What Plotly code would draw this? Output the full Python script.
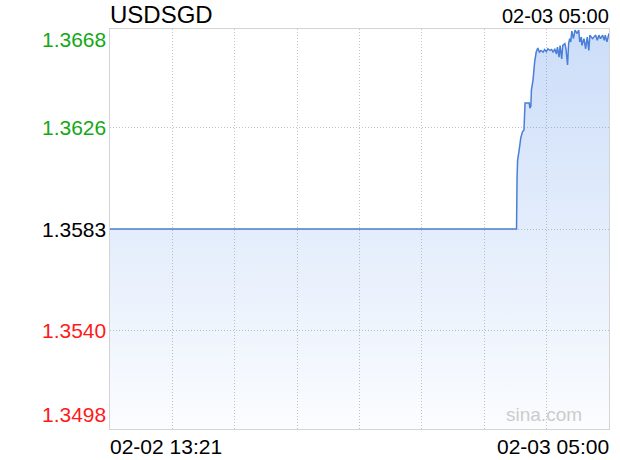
import datetime as dt
import plotly.graph_objects as go

# ---------------- data ----------------
symbol = "USDSGD"
start_time = "2025-02-02 13:21"
end_time = "2025-02-03 05:00"
start_label = "02-02 13:21"
end_label = "02-03 05:00"

minutes = [0, 765, 766, 767, 770, 773, 776, 779, 781, 789, 790, 792, 793, 796,
           799, 802, 805, 808, 811, 815, 818, 821, 824, 828, 831, 834, 837, 840,
           842, 845, 847, 850, 852, 856, 858, 861, 863, 865, 867, 869, 872, 875,
           879, 882, 884, 887, 888, 892, 895, 898, 901, 903, 908, 911, 914, 917,
           920, 923, 927, 930, 932, 935, 939]
prices = [1.3583, 1.3583, 1.36047, 1.36123, 1.36166, 1.36217, 1.36242, 1.36251,
          1.36366, 1.36366, 1.36344, 1.36353, 1.36421, 1.36463, 1.36538, 1.36582,
          1.36599, 1.36582, 1.36589, 1.36582, 1.36593, 1.36584, 1.36596, 1.36589,
          1.36593, 1.36581, 1.36596, 1.36574, 1.36603, 1.36560, 1.36610, 1.36553,
          1.36610, 1.36618, 1.36596, 1.36527, 1.36618, 1.36639, 1.36625, 1.36671,
          1.36639, 1.36675, 1.36661, 1.36675, 1.36625, 1.36646, 1.36610, 1.36639,
          1.36596, 1.36646, 1.36589, 1.36654, 1.36639, 1.36646, 1.36654, 1.36632,
          1.36654, 1.36639, 1.36654, 1.36632, 1.36654, 1.36625, 1.36661]

prev_close = 1.3583
y_ticks = [1.3668, 1.3626, 1.3583, 1.3540, 1.3498]
y_tick_labels = ["1.3668", "1.3626", "1.3583", "1.3540", "1.3498"]
y_tick_colors = ["#14a814", "#14a814", "#000000", "#ff1a1a", "#ff1a1a"]

# ---------------- build ----------------
t0 = dt.datetime.strptime(start_time, "%Y-%m-%d %H:%M")
t1 = dt.datetime.strptime(end_time, "%Y-%m-%d %H:%M")
times = [t0 + dt.timedelta(minutes=m) for m in minutes]

y_lo, y_hi = y_ticks[-1], y_ticks[0]
span = (t1 - t0) / 8
x_grid = [t0 + span * k for k in range(9)]

FONT = "Liberation Sans, Arial, Helvetica, sans-serif"

fig = go.Figure()
fig.add_trace(go.Scatter(x=times, y=[y_lo] * len(times), mode="lines",
                         line=dict(width=0), hoverinfo="skip", showlegend=False))
fig.add_trace(go.Scatter(
    x=times, y=prices, mode="lines", line=dict(color="#4a7fd8", width=1.5),
    fill="tonexty",
    fillgradient=dict(type="vertical",
                      colorscale=[[0, "rgba(50,120,230,0.02)"],
                                  [1, "rgba(50,120,230,0.25)"]],
                      start=y_lo, stop=y_hi),
    showlegend=False))

grid_style = dict(showgrid=True, gridcolor="#c4c4c4", griddash="1px,2px", gridwidth=1,
                  showline=True, linecolor="#d4d4d4", linewidth=1, mirror=True,
                  zeroline=False, ticks="", showticklabels=False)
fig.update_xaxes(range=[t0, t1], tickvals=x_grid, **grid_style)
fig.update_yaxes(range=[y_lo, y_hi], tickvals=y_ticks, **grid_style)

annotations = []
shifts = [-10, 0, 0, 0, 15]
for v, lab, col, sh in zip(y_ticks, y_tick_labels, y_tick_colors, shifts):
    annotations.append(dict(x=0, xref="paper", y=v, yref="y", text=lab,
                            xanchor="right", yanchor="middle", xshift=-2, yshift=sh,
                            showarrow=False, font=dict(size=21, color=col, family=FONT)))
annotations += [
    dict(x=0, xref="paper", y=1.0355, yref="paper", text=symbol, xanchor="left",
         yanchor="middle", showarrow=False, xshift=-2,
         font=dict(size=24, color="#000", family=FONT)),
    dict(x=1, xref="paper", y=1.0325, yref="paper", text=end_label, xanchor="right",
         yanchor="middle", showarrow=False, xshift=2,
         font=dict(size=20, color="#000", family=FONT)),
    dict(x=0, xref="paper", y=-0.0425, yref="paper", text=start_label, xanchor="left",
         yanchor="middle", showarrow=False, xshift=-2,
         font=dict(size=21, color="#000", family=FONT)),
    dict(x=1, xref="paper", y=-0.0425, yref="paper", text=end_label, xanchor="right",
         yanchor="middle", showarrow=False, xshift=2,
         font=dict(size=21, color="#000", family=FONT)),
    dict(x=0.87, xref="paper", y=0.0375, yref="paper", text="sina.com", xanchor="center",
         yanchor="middle", showarrow=False,
         font=dict(size=19, color="#cccccc", family=FONT)),
]

fig.update_layout(width=620, height=460, margin=dict(l=110, r=11, t=29, b=31),
                  paper_bgcolor="white", plot_bgcolor="white",
                  annotations=annotations, font=dict(family=FONT))

# remove the default 8px page margin so the figure fills the window exactly
fig.write_html("out.html",
               config={"displayModeBar": False},
               post_script="document.body.style.margin='0';"
                           "document.body.style.overflow='hidden';")
